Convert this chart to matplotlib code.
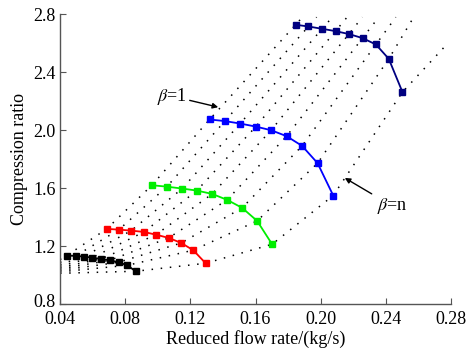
import numpy as np
import matplotlib
matplotlib.use("Agg")
import matplotlib.pyplot as plt
import matplotlib.transforms as mtransforms

plt.rcParams['font.family'] = 'Liberation Serif'
plt.rcParams['mathtext.fontset'] = 'stix'
plt.rcParams['font.size'] = 13

# speed lines (reduced flow rate kg/s, compression ratio), 9 points each
flow_k = [0.0441, 0.0496, 0.0545, 0.0598, 0.0653, 0.0707, 0.0760, 0.0813, 0.0864]
pr_k = [1.137, 1.135, 1.130, 1.123, 1.114, 1.105, 1.091, 1.070, 1.029]
flow_r = [0.0687, 0.0762, 0.0837, 0.0915, 0.0989, 0.1067, 0.1144, 0.1218, 0.1294]
pr_r = [1.321, 1.316, 1.309, 1.300, 1.281, 1.259, 1.224, 1.174, 1.084]
flow_g = [0.0964, 0.1056, 0.1150, 0.1240, 0.1334, 0.1426, 0.1518, 0.1610, 0.1702]
pr_g = [1.622, 1.612, 1.599, 1.585, 1.562, 1.521, 1.466, 1.376, 1.215]
flow_b = [0.1318, 0.1412, 0.1506, 0.1602, 0.1696, 0.1791, 0.1886, 0.1981, 0.2077]
pr_b = [2.075, 2.064, 2.047, 2.026, 2.001, 1.960, 1.893, 1.774, 1.551]
flow_n = [0.1846, 0.1925, 0.2009, 0.2091, 0.2173, 0.2257, 0.2339, 0.2418, 0.2502]
pr_n = [2.728, 2.716, 2.700, 2.684, 2.664, 2.636, 2.592, 2.493, 2.264]

# ends of the beta lines (lower-left start, upper-right end)
beta_start_x = [0.04] * 9
beta_start_y = [1.11, 1.09, 1.075, 1.065, 1.055, 1.045, 1.035, 1.025, 1.015]
beta_end_x = [0.1888, 0.1975, 0.2071, 0.2162, 0.2256, 0.2356, 0.2461, 0.2560, 0.278]
beta_end_y = [2.78, 2.78, 2.78, 2.78, 2.78, 2.78, 2.78, 2.76, 2.60]

speeds = [(flow_k, pr_k, 'black'), (flow_r, pr_r, '#ff0000'),
          (flow_g, pr_g, '#00ee00'), (flow_b, pr_b, '#0000ff'),
          (flow_n, pr_n, '#000080')]

fig = plt.figure(figsize=(4.74, 3.63), dpi=100)
ax = fig.add_axes([0.1266, 0.1612, 0.8249, 0.7994])

# beta lines (dotted)
for i in range(9):
    xs = [beta_start_x[i]] + [s[0][i] for s in speeds] + [beta_end_x[i]]
    ys = [beta_start_y[i]] + [s[1][i] for s in speeds] + [beta_end_y[i]]
    ax.plot(xs, ys, color='black', linestyle=(0, (1, 5)), linewidth=1.1)

for fx, py, c in speeds:
    ax.plot(fx, py, color=c, linewidth=1.3, marker='s', markersize=3.8,
            markeredgecolor=c, markerfacecolor=c)

ax.annotate(r'$\beta$=1', xy=(0.1371, 2.160), xytext=(0.0995, 2.236),
            fontsize=13, va='center', ha='left',
            arrowprops=dict(arrowstyle='-|>', color='black', lw=1.0,
                            shrinkA=0, shrinkB=0, mutation_scale=8))
ax.annotate(r'$\beta$=n', xy=(0.2148, 1.672), xytext=(0.2345, 1.479),
            fontsize=13, va='center', ha='left',
            arrowprops=dict(arrowstyle='-|>', color='black', lw=1.0,
                            shrinkA=2, shrinkB=0, mutation_scale=8))

ax.set_xlim(0.04, 0.28)
ax.set_ylim(0.8, 2.8)
ax.set_xticks([0.04, 0.08, 0.12, 0.16, 0.20, 0.24, 0.28])
ax.set_xticklabels(['0.04', '0.08', '0.12', '0.16', '0.20', '0.24', '0.28'])
ax.set_yticks([0.8, 1.2, 1.6, 2.0, 2.4, 2.8])
ax.set_yticklabels(['0.8', '1.2', '1.6', '2.0', '2.4', '2.8'])
ax.spines['top'].set_visible(False)
ax.spines['right'].set_visible(False)
for sp in ('left', 'bottom'):
    ax.spines[sp].set_color('#555555')
    ax.spines[sp].set_linewidth(1.0)
ax.tick_params(direction='in', length=4, width=0.8, color='#555555',
               labelsize=13)
ax.tick_params(axis='x', pad=5)
ax.tick_params(axis='y', pad=3)
# nudge the lowest y label up so it doesn't sit on the 0.04 label
lbl = ax.get_yticklabels()[0]
lbl.set_transform(lbl.get_transform() +
                  mtransforms.ScaledTranslation(0, 3 / 72, fig.dpi_scale_trans))
ax.set_xlabel('Reduced flow rate/(kg/s)', fontsize=13, labelpad=1)
ax.set_ylabel('Compression ratio', fontsize=13, labelpad=4)

fig.savefig('out.png', dpi=100)
